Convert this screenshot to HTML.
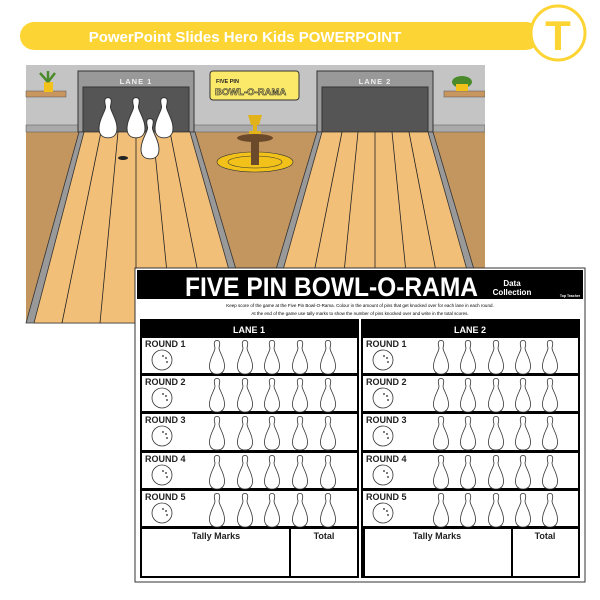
<!DOCTYPE html>
<html><head><meta charset="utf-8"><style>
html,body{margin:0;padding:0;background:#fff;width:600px;height:600px;overflow:hidden}
svg{display:block}
text{font-family:"Liberation Sans",sans-serif;font-weight:bold}
</style></head><body>
<svg width="600" height="600" viewBox="0 0 600 600" xmlns="http://www.w3.org/2000/svg">
<defs>
<path id="pin" d="M-2,8 C-3,4 -3.5,0.5 0,0.5 C3.5,0.5 3,4 2,8 C2,12 7.5,18 7.5,26 C7.5,32 4,34 0,34 C-4,34 -7.5,32 -7.5,26 C-7.5,18 -2,12 -2,8Z" fill="#fff" stroke="#333" stroke-width="0.8"/>
<g id="ball"><circle r="10" fill="#fff" stroke="#333" stroke-width="0.8"/><circle cx="1" cy="-4" r="1" fill="#555"/><circle cx="4" cy="-2" r="1" fill="#555"/><circle cx="5" cy="2" r="1" fill="#555"/></g>
</defs>
<!-- banner -->
<rect x="20" y="22" width="520" height="28" rx="14" fill="#fcd535"/>
<text x="245" y="42" fill="#fff" font-size="15" text-anchor="middle">PowerPoint Slides Hero Kids POWERPOINT</text>
<circle cx="558" cy="33" r="27" fill="#fff" stroke="#fcd535" stroke-width="3"/>
<text x="558" y="50" fill="#fcd535" font-size="42" text-anchor="middle">T</text>
<!-- slide -->
<rect x="26" y="65" width="459" height="258" fill="#c4965f"/>
<rect x="26" y="65" width="459" height="67" fill="#c4c4c4"/>
<rect x="26" y="125" width="459" height="7" fill="#aaa" stroke="#555" stroke-width="0.5"/>
<rect x="78" y="71" width="116" height="61" fill="#999" stroke="#333"/>
<rect x="83" y="87" width="106" height="45" fill="#555" stroke="#333"/>
<text x="136" y="84" fill="#eee" font-size="7.5" text-anchor="middle" letter-spacing="1">LANE 1</text>
<rect x="317" y="71" width="116" height="61" fill="#999" stroke="#333"/>
<rect x="322" y="87" width="106" height="45" fill="#555" stroke="#333"/>
<text x="375" y="84" fill="#eee" font-size="7.5" text-anchor="middle" letter-spacing="1">LANE 2</text>
<rect x="210" y="71" width="89" height="29" rx="3" fill="#fbe96a" stroke="#333"/>
<text x="216" y="83" font-size="5.5" fill="#222">FIVE PIN</text>
<text x="215" y="95" font-size="9.5" fill="#fbe96a" stroke="#333" stroke-width="0.6">BOWL-O-RAMA</text>
<!-- shelves/plants -->
<rect x="26" y="91" width="40" height="6" fill="#c8965f" stroke="#555" stroke-width="0.5"/>
<rect x="44" y="82" width="9" height="10" fill="#f2c21a"/><path d="M48,82 l-8,-9 M48,82 l7,-9 M48,82 l0,-11" stroke="#4a8a2a" stroke-width="2.5"/>
<rect x="444" y="91" width="41" height="6" fill="#c8965f" stroke="#555" stroke-width="0.5"/>
<ellipse cx="462" cy="82" rx="10" ry="6" fill="#4a8a2a"/><rect x="456" y="84" width="12" height="7" fill="#f2c21a"/>
<!-- lane 1 -->
<polygon points="79,132 195,132 252,323 26,323" fill="#999" stroke="#333" stroke-width="0.8"/>
<polygon points="84,132 190,132 244,323 34,323" fill="#f2bf78" stroke="#333" stroke-width="0.8"/>
<g stroke="#222" stroke-width="0.8">
<line x1="101" y1="132" x2="62" y2="323"/><line x1="118" y1="132" x2="100" y2="323"/><line x1="136" y1="132" x2="136" y2="323"/><line x1="153" y1="132" x2="172" y2="323"/><line x1="170" y1="132" x2="208" y2="323"/></g>
<!-- lane 2 -->
<polygon points="317,132 433,132 490,323 260,323" fill="#999" stroke="#333" stroke-width="0.8"/>
<polygon points="322,132 428,132 482,323 268,323" fill="#f2bf78" stroke="#333" stroke-width="0.8"/>
<g stroke="#222" stroke-width="0.8">
<line x1="342" y1="132" x2="304" y2="323"/><line x1="358" y1="132" x2="339" y2="323"/><line x1="375" y1="132" x2="375" y2="323"/><line x1="392" y1="132" x2="411" y2="323"/><line x1="409" y1="132" x2="446" y2="323"/></g>
<rect x="485" y="65" width="6" height="258" fill="#fff"/>
<ellipse cx="123" cy="158" rx="5" ry="2" fill="#222"/>
<!-- pins -->
<g transform="translate(108,97) scale(1.2)"><use href="#pin"/></g>
<g transform="translate(136,97) scale(1.2)"><use href="#pin"/></g>
<g transform="translate(164,97) scale(1.2)"><use href="#pin"/></g>
<g transform="translate(150,118) scale(1.2)"><use href="#pin"/></g>
<!-- trophy table -->
<ellipse cx="255" cy="162" rx="38" ry="10" fill="#f2c21a" stroke="#333" stroke-width="0.6"/>
<ellipse cx="255" cy="162" rx="27" ry="6" fill="none" stroke="#333" stroke-width="0.6"/>
<rect x="251" y="140" width="8" height="25" fill="#6b4a2b"/>
<ellipse cx="255" cy="138" rx="18" ry="4" fill="#6b4a2b"/>
<path d="M248,115 h14 l-3,10 h-8z" fill="#e2b21a"/><rect x="253" y="124" width="4" height="8" fill="#e2b21a"/><rect x="249" y="131" width="12" height="3" fill="#e2b21a"/>
<!-- worksheet -->
<rect x="135" y="268" width="450" height="314" fill="#fff" stroke="#333" stroke-width="1"/>
<rect x="137" y="270" width="446" height="29" fill="#000"/>
<text x="185" y="296" fill="#fff" font-size="27" textLength="293" lengthAdjust="spacingAndGlyphs">FIVE PIN BOWL-O-RAMA</text>
<text x="512" y="286" fill="#fff" font-size="8" text-anchor="middle">Data</text>
<text x="512" y="295" fill="#fff" font-size="8" text-anchor="middle">Collection</text>
<text x="570" y="297" fill="#fff" font-size="3.5" text-anchor="middle">Top Teacher</text>
<text x="360" y="307" font-size="4.5" text-anchor="middle" style="font-weight:normal">Keep score of the game at the Five Pin Bowl-O-Rama. Colour in the amount of pins that get knocked over for each lane in each round.</text>
<text x="360" y="315" font-size="4.5" text-anchor="middle" style="font-weight:normal">At the end of the game use tally marks to show the number of pins knocked over and write in the total scores.</text>
<rect x="140" y="319" width="219" height="259" fill="#000"/>
<rect x="361" y="319" width="219" height="259" fill="#000"/>
<text x="249" y="333" fill="#fff" font-size="9" text-anchor="middle">LANE 1</text>
<text x="470" y="333" fill="#fff" font-size="9" text-anchor="middle">LANE 2</text>
<g fill="#fff">
<rect x="142" y="338" width="215" height="35"/><rect x="142" y="376" width="215" height="35"/><rect x="142" y="414" width="215" height="36"/><rect x="142" y="453" width="215" height="35"/><rect x="142" y="491" width="215" height="35"/>
<rect x="142" y="529" width="147" height="47"/><rect x="291" y="529" width="66" height="47"/>
<rect x="363" y="338" width="215" height="35"/><rect x="363" y="376" width="215" height="35"/><rect x="363" y="414" width="215" height="36"/><rect x="363" y="453" width="215" height="35"/><rect x="363" y="491" width="215" height="35"/>
<rect x="365" y="529" width="146" height="47"/><rect x="513" y="529" width="65" height="47"/>
</g>
<g font-size="9" fill="#222">
<text x="145" y="347">ROUND 1</text><text x="145" y="385">ROUND 2</text><text x="145" y="423">ROUND 3</text><text x="145" y="462">ROUND 4</text><text x="145" y="500">ROUND 5</text>
<text x="366" y="347">ROUND 1</text><text x="366" y="385">ROUND 2</text><text x="366" y="423">ROUND 3</text><text x="366" y="462">ROUND 4</text><text x="366" y="500">ROUND 5</text>
<text x="216" y="539" text-anchor="middle">Tally Marks</text><text x="324" y="539" text-anchor="middle">Total</text>
<text x="437" y="539" text-anchor="middle">Tally Marks</text><text x="545" y="539" text-anchor="middle">Total</text>
</g>
<g>
<use href="#ball" x="162" y="360"/><use href="#ball" x="162" y="398"/><use href="#ball" x="162" y="436"/><use href="#ball" x="162" y="475"/><use href="#ball" x="162" y="513"/>
<use href="#ball" x="383" y="360"/><use href="#ball" x="383" y="398"/><use href="#ball" x="383" y="436"/><use href="#ball" x="383" y="475"/><use href="#ball" x="383" y="513"/>
</g>
<g id="pinrow">
<use href="#pin" x="217" y="340"/><use href="#pin" x="245" y="340"/><use href="#pin" x="272" y="340"/><use href="#pin" x="300" y="340"/><use href="#pin" x="328" y="340"/>
<use href="#pin" x="441" y="340"/><use href="#pin" x="468" y="340"/><use href="#pin" x="496" y="340"/><use href="#pin" x="523" y="340"/><use href="#pin" x="550" y="340"/>
</g>
<use href="#pinrow" y="38"/><use href="#pinrow" y="76"/><use href="#pinrow" y="115"/><use href="#pinrow" y="153"/>
</svg>
</body></html>
